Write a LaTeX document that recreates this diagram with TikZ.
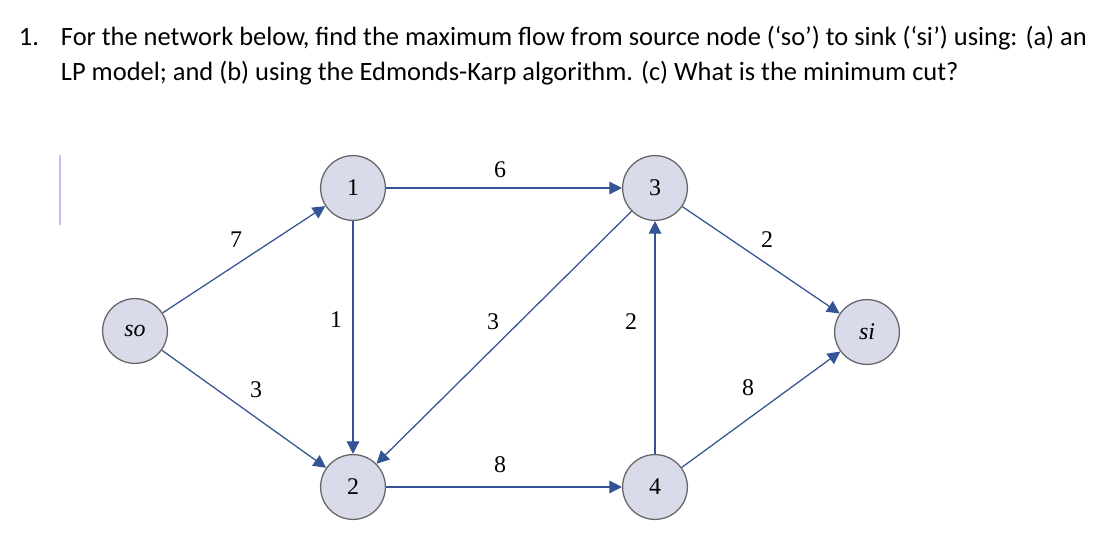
\documentclass[tikz,border=0pt]{standalone}
\usepackage{fontspec}
\setmainfont{Liberation Serif}
\newfontfamily\qfont{Carlito}
\usetikzlibrary{arrows.meta}
\definecolor{nodefill}{RGB}{217,218,234}
\definecolor{edgeblue}{RGB}{52,84,150}
\tikzset{
  vertex/.style={circle, minimum size=1.62cm, inner sep=0pt, draw=gray!80!black, line width=0.9pt, fill=nodefill, font=\fontsize{17}{17}\selectfont},
  arc/.style={draw=edgeblue, line width=0.9pt, -{Triangle[length=9pt,width=9pt]}},
  weight/.style={font=\fontsize{17}{17}\selectfont},
  question/.style={anchor=base west, font=\qfont\fontsize{18.8}{18.8}\selectfont}
}
\begin{document}
\begin{tikzpicture}[x=0.025cm, y=-0.025cm]
        \useasboundingbox (0,0) rectangle (1106,554);
        \node[question] (q1) at (14,45) {1.};
        \node[question] (q2) at (56,45) {For the network below, find the maximum flow from source node (‘so’) to sink (‘si’) using: (a) an};
        \node[question] (q3) at (56,80) {LP model; and (b) using the Edmonds-Karp algorithm. (c) What is the minimum cut?};
        \draw[color=blue!25, line width=1.2pt] (60,155) -- (60,225);

        \node(so) [vertex] at (135,331) {\textit{so}};
        \node(n1) [vertex] at (353,188) {1};
        \node(n3) [vertex] at (655,188) {3};
        \node(n2) [vertex] at (353,487) {2};
        \node(n4) [vertex] at (655,487) {4};
        \node(si) [vertex] at (867,332) {\textit{si}};

        \draw[arc] (so) -- (n1);
        \draw[arc] (so) -- (n2);
        \draw[arc] (n1) -- (n2);
        \draw[arc] (n1) -- (n3);
        \draw[arc] (n3) -- (n2);
        \draw[arc] (n2) -- (n4);
        \draw[arc] (n4) -- (n3);
        \draw[arc] (n3) -- (si);
        \draw[arc] (n4) -- (si);

        \node[weight] at (236,240) {7};
        \node[weight] at (256,390) {3};
        \node[weight] at (336,320) {1};
        \node[weight] at (500,170) {6};
        \node[weight] at (493,322) {3};
        \node[weight] at (500,465) {8};
        \node[weight] at (631,322) {2};
        \node[weight] at (767,240) {2};
        \node[weight] at (748,388) {8};
\end{tikzpicture}
\end{document}
